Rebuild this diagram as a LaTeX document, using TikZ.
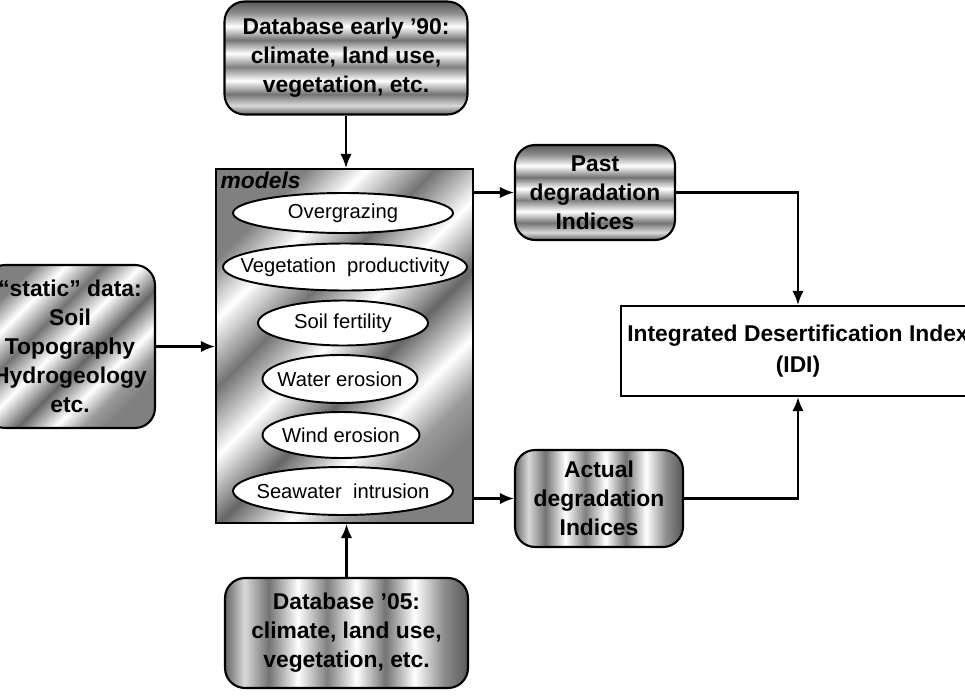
\documentclass[tikz,border=0pt]{standalone}
\usepackage{fontspec}
\setmainfont{Liberation Sans}
\usetikzlibrary{arrows.meta, shapes.geometric}

\pgfdeclareverticalshading{metalrows}{100bp}{color(0bp)=(black!60); color(25bp)=(black!60); color(29bp)=(black!15); color(34bp)=(black!55); color(40bp)=(white); color(46bp)=(black!50); color(52bp)=(white); color(58bp)=(black!55); color(64bp)=(white); color(70bp)=(black!45); color(75bp)=(black!65); color(100bp)=(black!65)}
\pgfdeclarehorizontalshading{metalcols}{100bp}{color(0bp)=(black!60); color(25bp)=(black!60); color(29bp)=(black!15); color(34bp)=(black!55); color(40bp)=(white); color(46bp)=(black!50); color(52bp)=(white); color(58bp)=(black!55); color(64bp)=(white); color(70bp)=(black!45); color(75bp)=(black!65); color(100bp)=(black!65)}
\pgfdeclarehorizontalshading{metaldiag}{100bp}{color(0bp)=(black!50); color(25bp)=(black!50); color(32bp)=(white); color(40bp)=(black!55); color(48bp)=(white); color(56bp)=(black!60); color(64bp)=(white); color(70bp)=(black!40); color(75bp)=(black!50); color(100bp)=(black!50)}

\newcommand{\mtext}[1]{\makebox[0pt]{#1}}

\tikzset{
    databox/.style={draw, line width=1.2pt, rounded corners=0.4cm, align=center, shade,
        font=\bfseries\fontsize{13}{16.5}\selectfont},
    rowshade/.style={shading=metalrows},
    colshade/.style={shading=metalcols},
    diagshade/.style={shading=metaldiag, shading angle=-45},
    model/.style={ellipse, draw, fill=white, line width=1.1pt, inner sep=0pt,
        font=\fontsize{11.5}{13}\selectfont},
    link/.style={line width=1.3pt, -{Latex[length=8pt, width=6.5pt]}},
}

\begin{document}
\begin{tikzpicture}[x=0.02cm, y=-0.02cm]
    \useasboundingbox (0, 0) rectangle (965, 697);

    \node[databox, rowshade, minimum width=4.86cm, minimum height=2.26cm] (db90) at (346, 58)
        {Database early '90:\\climate, land use,\\vegetation, etc.};
    \node[databox, colshade, minimum width=4.86cm, minimum height=2.2cm] (db05) at (346.5, 633)
        {Database '05:\\climate, land use,\\vegetation, etc.};
    \node[databox, diagshade, minimum width=3.4cm, minimum height=3.26cm] (static) at (70, 346.5)
        {“static” data:\\Soil\\Topography\\Hydrogeology\\etc.};

    \node[draw, line width=1.2pt, shade, diagshade, minimum width=5.14cm, minimum height=7.08cm] (models) at (344.5, 346) {};
    \node[anchor=north west, inner xsep=3pt, inner ysep=2pt, font=\bfseries\itshape\fontsize{13}{15}\selectfont] (modelslabel) at (models.north west) {models};

    \node[model, minimum width=4.4cm, minimum height=0.8cm] (overgrazing) at (343, 213) {\mtext{Overgrazing}};
    \node[model, minimum width=4.88cm, minimum height=0.94cm] (vegprod) at (345, 267) {\mtext{Vegetation~~productivity}};
    \node[model, minimum width=3.4cm, minimum height=0.9cm] (soilfert) at (343, 323) {\mtext{Soil fertility}};
    \node[model, minimum width=3.1cm, minimum height=0.96cm] (watereros) at (340, 379) {\mtext{Water erosion}};
    \node[model, minimum width=3.14cm, minimum height=0.92cm] (winderos) at (341, 435) {\mtext{Wind erosion}};
    \node[model, minimum width=4.4cm, minimum height=0.96cm] (seawater) at (343, 491) {\mtext{Seawater~~intrusion}};

    \node[databox, rowshade, minimum width=3.2cm, minimum height=1.9cm] (past) at (595, 192.5)
        {Past\\degradation\\Indices};
    \node[databox, colshade, minimum width=3.36cm, minimum height=1.94cm] (actual) at (599, 498.5)
        {Actual\\degradation\\Indices};

    \node[draw, line width=1.2pt, fill=white, align=center, minimum width=6.92cm, minimum height=1.8cm,
        font=\bfseries\fontsize{13}{17.5}\selectfont] (idi) at (798, 351)
        {Integrated Desertification Index\\(IDI)};

    \draw[link] (db90.south) -- (db90.south |- models.north);
    \draw[link] (db05.north) -- (db05.north |- models.south);
    \draw[link] (static.east) -- (static.east -| models.west);
    \draw[link] (models.east |- past.west) -- (past.west);
    \draw[link] (models.east |- actual.west) -- (actual.west);
    \draw[link] (past.east) -| (idi.north);
    \draw[link] (actual.east) -| (idi.south);
\end{tikzpicture}
\end{document}
